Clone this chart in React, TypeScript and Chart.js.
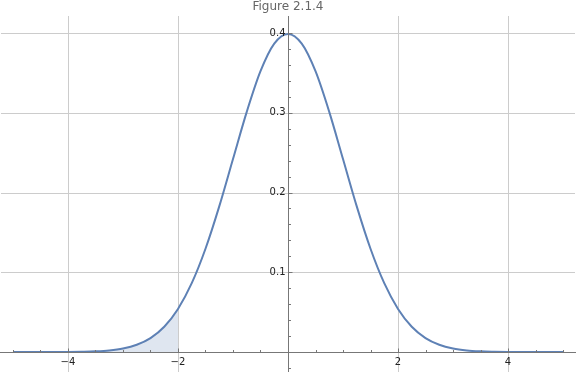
import React, { useEffect, useRef } from "react";
import { Chart, registerables } from "chart.js";

Chart.register(...registerables);

const TITLE = "Figure 2.1.4";
const xValues = [-5, -4.75, -4.5, -4.25, -4, -3.75, -3.5, -3.25, -3, -2.75, -2.5, -2.25, -2, -1.75, -1.5, -1.25, -1, -0.75, -0.5, -0.25, 0, 0.25, 0.5, 0.75, 1, 1.25, 1.5, 1.75, 2, 2.25, 2.5, 2.75, 3, 3.25, 3.5, 3.75, 4, 4.25, 4.5, 4.75, 5];
const densityValues = [0.0000, 0.0000, 0.0000, 0.0000, 0.0001, 0.0004, 0.0009, 0.0020, 0.0044, 0.0091, 0.0175, 0.0317, 0.0540, 0.0863, 0.1295, 0.1826, 0.2420, 0.3011, 0.3521, 0.3867, 0.3989, 0.3867, 0.3521, 0.3011, 0.2420, 0.1826, 0.1295, 0.0863, 0.0540, 0.0317, 0.0175, 0.0091, 0.0044, 0.0020, 0.0009, 0.0004, 0.0001, 0.0000, 0.0000, 0.0000, 0.0000];
const shadeUpTo = -2;
const xTickLabels = [-4, -2, 2, 4];
const yTickLabels = [0.1, 0.2, 0.3, 0.4];

export default function App() {
  const ref = useRef<HTMLCanvasElement>(null);
  useEffect(() => {
    document.body.style.margin = "0";
    const canvas = ref.current!;
    const curve = xValues.map((x, i) => ({ x, y: densityValues[i] }));
    const shade = curve.filter((p) => p.x <= shadeUpTo);

    const axesPlugin = {
      id: "mmaAxes",
      beforeDatasetsDraw(chart: any) {
        const { ctx } = chart;
        const xs = chart.scales.x;
        const ys = chart.scales.y;
        const top = 16;
        ctx.save();
        ctx.strokeStyle = "#cccccc";
        ctx.lineWidth = 1;
        for (const v of xTickLabels) {
          const px = Math.round(xs.getPixelForValue(v)) + 0.5;
          ctx.beginPath();
          ctx.moveTo(px, top);
          ctx.lineTo(px, 372);
          ctx.stroke();
        }
        for (const v of yTickLabels) {
          const py = Math.round(ys.getPixelForValue(v)) + 0.5;
          ctx.beginPath();
          ctx.moveTo(1, py);
          ctx.lineTo(575, py);
          ctx.stroke();
        }
        ctx.restore();
      },
      afterDatasetsDraw(chart: any) {
        const { ctx } = chart;
        const xs = chart.scales.x;
        const ys = chart.scales.y;
        const ox = Math.round(xs.getPixelForValue(0)) + 0.5;
        const oy = Math.round(ys.getPixelForValue(0)) + 0.5;
        ctx.save();
        ctx.strokeStyle = "#777777";
        ctx.lineWidth = 1;
        // axes
        ctx.beginPath();
        ctx.moveTo(0, oy);
        ctx.lineTo(576, oy);
        ctx.moveTo(ox, 16);
        ctx.lineTo(ox, 372);
        ctx.stroke();
        // x ticks every 0.5
        for (let k = -10; k <= 10; k++) {
          if (k === 0) continue;
          const v = k * 0.5;
          const px = Math.round(xs.getPixelForValue(v)) + 0.5;
          const len = k % 4 === 0 ? 4 : 2.5;
          ctx.beginPath();
          ctx.moveTo(px, oy);
          ctx.lineTo(px, oy - len);
          ctx.stroke();
        }
        // y ticks every 0.02
        for (let k = -1; k <= 20; k++) {
          if (k === 0) continue;
          const v = k * 0.02;
          const py = Math.round(ys.getPixelForValue(v)) + 0.5;
          const len = k % 5 === 0 ? 4 : 2.5;
          ctx.beginPath();
          ctx.moveTo(ox, py);
          ctx.lineTo(ox + len, py);
          ctx.stroke();
        }
        // labels
        ctx.fillStyle = "#222222";
        ctx.font = "10px 'DejaVu Sans'";
        ctx.textAlign = "center";
        ctx.textBaseline = "middle";
        for (const v of xTickLabels) {
          const px = xs.getPixelForValue(v);
          const s = v < 0 ? "\u2212" + Math.abs(v) : String(v);
          ctx.fillText(s, px, oy + 10);
        }
        ctx.textAlign = "right";
        for (const v of yTickLabels) {
          const py = ys.getPixelForValue(v);
          ctx.fillText(v.toFixed(1), ox - 3, py);
        }
        // title
        ctx.fillStyle = "#666666";
        ctx.font = "12px 'DejaVu Sans'";
        ctx.textAlign = "center";
        ctx.textBaseline = "middle";
        ctx.fillText(TITLE, 288, 7);
        ctx.restore();
      },
    };

    const chart = new Chart(canvas, {
      type: "scatter",
      data: {
        datasets: [
          {
            data: shade,
            showLine: true,
            borderWidth: 0,
            borderColor: "rgba(0,0,0,0)",
            backgroundColor: "rgba(94,129,181,0.2)",
            fill: "origin",
            pointRadius: 0,
            cubicInterpolationMode: "monotone",
          },
          {
            data: curve,
            showLine: true,
            borderColor: "#5E81B5",
            borderWidth: 2,
            fill: false,
            pointRadius: 0,
            cubicInterpolationMode: "monotone",
          },
        ],
      },
      options: {
        animation: false,
        responsive: false,
        maintainAspectRatio: false,
        layout: { padding: 0 },
        plugins: { legend: { display: false }, tooltip: { enabled: false }, title: { display: false } },
        scales: {
          x: { type: "linear", display: false, min: -5.236, max: 5.236 },
          y: { type: "linear", display: false, min: -0.02508, max: 0.4414 },
        },
      },
      plugins: [axesPlugin],
    } as any);
    return () => chart.destroy();
  }, []);
  return <canvas ref={ref} width={576} height={372} style={{ display: "block" }} />;
}
